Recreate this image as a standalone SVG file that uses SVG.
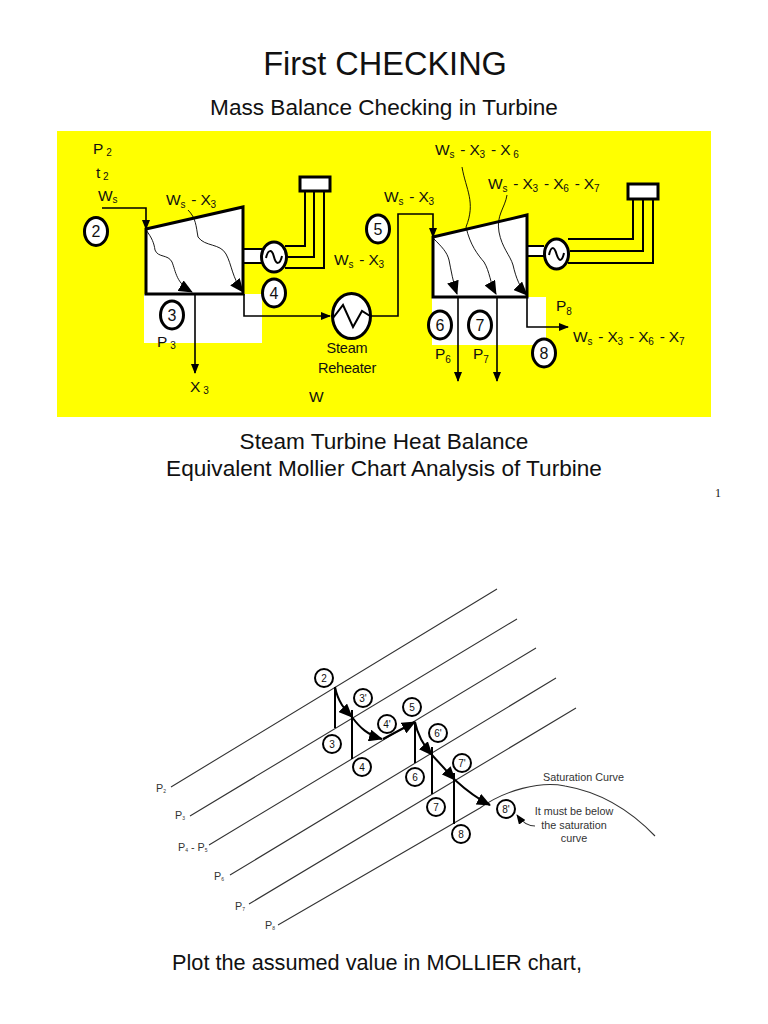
<svg xmlns="http://www.w3.org/2000/svg" width="768" height="1024" viewBox="0 0 768 1024">
<style>
text{font-family:"Liberation Sans",Arial,sans-serif;fill:#111}
.t{font-size:22.6px;text-anchor:middle}
.l{font-size:15.5px;letter-spacing:-.2px}
.n{font-size:16px;text-anchor:middle}
.s{font-size:10px}
.m{font-size:10px;text-anchor:middle}
.sm{font-size:10.8px;fill:#333}
.c{fill:#fff;stroke:#000;stroke-width:3}
.c2{fill:#fff;stroke:#000;stroke-width:2}
.w{fill:none;stroke:#000;stroke-width:.9}
.p{fill:none;stroke:#000;stroke-width:1.6}
.h{fill:none;stroke:#000;stroke-width:2}
.k{fill:#fff;stroke:#000;stroke-width:3}
.i{fill:none;stroke:#333;stroke-width:1.1}
</style>
<defs>
<marker id="a" markerUnits="userSpaceOnUse" markerWidth="10" markerHeight="8" refX="9" refY="4" orient="auto"><path d="M0 0L10 4L0 8Z"/></marker>
<marker id="b" markerUnits="userSpaceOnUse" markerWidth="14" markerHeight="12" refX="13" refY="6" orient="auto"><path d="M0 0L14 6L0 12Z"/></marker>
</defs>
<rect width="768" height="1024" fill="#fff"/>
<text class="t" x="385" y="75" style="font-size:32.5px">First CHECKING</text>
<text class="t" x="384" y="115">Mass Balance Checking in Turbine</text>
<rect id="panel" x="57" y="131" width="654" height="286" fill="#ff0"/>
<rect x="144" y="294" width="118" height="49" fill="#fff"/>
<rect x="432" y="297" width="114" height="48" fill="#fff"/>
<rect x="244" y="249" width="18" height="14" fill="#fff"/>
<rect x="527" y="246" width="17" height="10" fill="#fff"/>
<g id="turbine1"><path d="M146 229L243 207V294H146Z" class="k"/></g>
<g id="turbine2"><path d="M433 237L527 215V297H433Z" class="k"/></g>
<g id="connectors">
<path class="p" d="M102 208H146V229" marker-end="url(#a)"/>
<path class="p" d="M244 294V316H330" marker-end="url(#a)"/>
<path class="p" d="M370 316H398V214H433V237" marker-end="url(#a)"/>
<path class="p" d="M195 294V373" marker-end="url(#a)"/>
<path class="p" d="M458 297V381" marker-end="url(#a)"/>
<path class="p" d="M497 297V381" marker-end="url(#a)"/>
<path class="p" d="M527 297V327H568" marker-end="url(#a)"/>
<path class="w" d="M146 230C152 238 154 243 155 250C158 258 168 254 172 262C176 272 176 283 192 292" marker-end="url(#b)"/>
<path class="w" d="M188 210C196 218 196 226 198 237C205 247 220 243 226 254C232 265 232 278 243 292" marker-end="url(#b)"/>
<path class="w" d="M433 238C442 247 447 252 449 260C451 270 453 282 457 294" marker-end="url(#b)"/>
<path class="w" d="M462 167C466 190 476 202 466 227C470 245 478 255 484 262C490 272 490 283 496 294" marker-end="url(#b)"/>
<path class="w" d="M507 195C505 208 496 215 499 232C502 248 510 255 513 265C516 278 520 288 527 295" marker-end="url(#b)"/>
<path class="h" d="M244 249H262M244 263H262M305 192V246H285M314 192V257H288M324 192V268H285M527 246H544M527 256H544M633 200V239H568M643 200V251H570M653 200V263H568"/>
<path class="i" d="M171 787L497 589M190 816L517 619M209 845L536 648M230 875L556 678M249 904L576 708"/>
<path class="i" d="M278 925L480 808C505 790 540 781 565 786C600 792 630 810 655 836"/>
<path class="h" d="M335 687V728M352 710V759M415 722V763M432 747V794M454 773V824"/>
<path class="h" d="M335 687C338 702 345 710 352 717" marker-end="url(#b)"/>
<path class="h" d="M352 717C360 728 368 735 382 739" marker-end="url(#b)"/>
<path class="h" d="M383 739L415 722" marker-end="url(#b)"/>
<path class="h" d="M415 722C418 737 424 746 432 755" marker-end="url(#b)"/>
<path class="h" d="M432 755L455 780" marker-end="url(#b)"/>
<path class="h" d="M455 780C466 790 476 798 490 805" marker-end="url(#b)"/>
<path class="i" d="M535 826C527 826 522 822 517 815" marker-end="url(#a)"/>
</g>
<g id="gen1"><ellipse cx="274" cy="257" rx="12.5" ry="15" class="c"/><path class="h" d="M266 258C268 249 272 249 274 257C276 265 280 265 282 256"/></g>
<g id="box1"><rect x="300" y="177" width="30" height="14" class="c"/></g>
<g id="gen2"><ellipse cx="556.5" cy="254" rx="12" ry="15" class="c"/><path class="h" d="M549 255C551 246 554 246 556.5 254C559 262 562 262 564 253"/></g>
<g id="box2"><rect x="628" y="184" width="30" height="15" class="c"/></g>
<g id="reheater"><ellipse cx="351.5" cy="316" rx="19" ry="22.5" class="c"/><path class="h" d="M333 318L343 305L353 327L362 311L370 316"/></g>
<g id="n2"><ellipse cx="96" cy="231.5" rx="11.5" ry="14" class="c"/><text class="n" x="96" y="237">2</text></g>
<g id="n3"><ellipse cx="172" cy="315" rx="11.5" ry="14" class="c"/><text class="n" x="172" y="321">3</text></g>
<g id="n4"><ellipse cx="274" cy="293" rx="11.5" ry="14" class="c"/><text class="n" x="274" y="299">4</text></g>
<g id="n5"><ellipse cx="378" cy="229" rx="11.5" ry="14" class="c"/><text class="n" x="378" y="235">5</text></g>
<g id="n6"><ellipse cx="440" cy="325" rx="11.5" ry="14" class="c"/><text class="n" x="440" y="331">6</text></g>
<g id="n7"><ellipse cx="480" cy="325" rx="11.5" ry="14" class="c"/><text class="n" x="480" y="331">7</text></g>
<g id="n8"><ellipse cx="544" cy="353" rx="11.5" ry="14" class="c"/><text class="n" x="544" y="359">8</text></g>
<text class="l" x="93" y="154">P<tspan class="s" dx="3" dy="2">2</tspan></text>
<text class="l" x="96" y="178">t<tspan class="s" dx="3" dy="2">2</tspan></text>
<text class="l" x="98" y="201">W<tspan class="s" dy="2">s</tspan></text>
<text class="l" x="166" y="205">W<tspan class="s" dy="3">s</tspan><tspan dx="2" dy="-3"> - X</tspan><tspan class="s" dy="3">3</tspan></text>
<text class="l" x="334" y="265">W<tspan class="s" dy="3">s</tspan><tspan dx="2" dy="-3"> - X</tspan><tspan class="s" dy="3">3</tspan></text>
<text class="l" x="384" y="202">W<tspan class="s" dy="3">s</tspan><tspan dx="2" dy="-3"> - X</tspan><tspan class="s" dy="3">3</tspan></text>
<text class="l" x="435" y="155">W<tspan class="s" dy="3">s</tspan><tspan dx="2" dy="-3"> - X</tspan><tspan class="s" dy="3">3</tspan><tspan dx="2" dy="-3"> - X</tspan><tspan class="s" dx="3" dy="3">6</tspan></text>
<text class="l" x="488" y="189">W<tspan class="s" dy="3">s</tspan><tspan dx="2" dy="-3"> - X</tspan><tspan class="s" dy="3">3</tspan><tspan dx="2" dy="-3"> - X</tspan><tspan class="s" dy="3">6</tspan><tspan dx="2" dy="-3"> - X</tspan><tspan class="s" dy="3">7</tspan></text>
<text class="l" x="573" y="342">W<tspan class="s" dy="3">s</tspan><tspan dx="2" dy="-3"> - X</tspan><tspan class="s" dy="3">3</tspan><tspan dx="2" dy="-3"> - X</tspan><tspan class="s" dy="3">6</tspan><tspan dx="2" dy="-3"> - X</tspan><tspan class="s" dy="3">7</tspan></text>
<text class="l" x="157" y="347">P<tspan class="s" dx="3" dy="2">3</tspan></text>
<text class="l" x="190" y="392">X<tspan class="s" dx="3" dy="2">3</tspan></text>
<text class="l" x="435" y="359">P<tspan class="s" dy="4">6</tspan></text>
<text class="l" x="473" y="359">P<tspan class="s" dy="4">7</tspan></text>
<text class="l" x="556" y="311">P<tspan class="s" dy="4">8</tspan></text>
<text class="l" style="font-size:14.5px;text-anchor:middle" x="347" y="353">Steam</text>
<text class="l" style="font-size:14.5px;text-anchor:middle" x="347" y="373">Reheater</text>
<text class="l" x="309" y="402">W</text>
<text class="t" x="384" y="449">Steam Turbine Heat Balance</text>
<text class="t" x="384" y="476">Equivalent Mollier Chart Analysis of Turbine</text>
<text x="715" y="497" style="font-family:'Liberation Serif',serif;font-size:12px">1</text>
<g id="m2"><circle cx="324" cy="678" r="9" class="c2"/><text class="m" x="324" y="682">2</text></g>
<g id="m3"><circle cx="332" cy="744" r="9" class="c2"/><text class="m" x="332" y="748">3</text></g>
<g id="m3p"><circle cx="363" cy="698" r="9" class="c2"/><text class="m" x="363" y="702">3'</text></g>
<g id="m4"><circle cx="362" cy="767" r="9" class="c2"/><text class="m" x="362" y="771">4</text></g>
<g id="m4p"><circle cx="387" cy="724" r="9" class="c2"/><text class="m" x="387" y="728">4'</text></g>
<g id="m5"><circle cx="412" cy="707" r="9" class="c2"/><text class="m" x="412" y="711">5</text></g>
<g id="m6"><circle cx="415" cy="777" r="9" class="c2"/><text class="m" x="415" y="781">6</text></g>
<g id="m6p"><circle cx="438" cy="733" r="9" class="c2"/><text class="m" x="438" y="737">6'</text></g>
<g id="m7"><circle cx="436" cy="807" r="9" class="c2"/><text class="m" x="436" y="811">7</text></g>
<g id="m7p"><circle cx="462" cy="763" r="9" class="c2"/><text class="m" x="462" y="767">7'</text></g>
<g id="m8"><circle cx="461" cy="834" r="9" class="c2"/><text class="m" x="461" y="838">8</text></g>
<g id="m8p"><circle cx="506" cy="809" r="9" class="c2"/><text class="m" x="506" y="813">8'</text></g>
<text class="sm" x="156" y="792">P<tspan font-size="5" dy="1">2</tspan></text>
<text class="sm" x="175" y="819">P<tspan font-size="5" dy="1">3</tspan></text>
<text class="sm" x="178" y="851">P<tspan font-size="5" dy="1">4</tspan><tspan dy="-1"> - P</tspan><tspan font-size="5" dy="1">5</tspan></text>
<text class="sm" x="214" y="880">P<tspan font-size="5" dy="1">6</tspan></text>
<text class="sm" x="235" y="910">P<tspan font-size="5" dy="1">7</tspan></text>
<text class="sm" x="265" y="929">P<tspan font-size="5" dy="1">8</tspan></text>
<text class="sm" x="543" y="781">Saturation Curve</text>
<text class="sm" style="text-anchor:middle" x="574" y="815">It must be below</text>
<text class="sm" style="text-anchor:middle" x="574" y="829">the saturation</text>
<text class="sm" style="text-anchor:middle" x="574" y="842">curve</text>
<text class="t" x="377" y="970" style="font-size:21.7px">Plot the assumed value in MOLLIER chart,</text>
</svg>
